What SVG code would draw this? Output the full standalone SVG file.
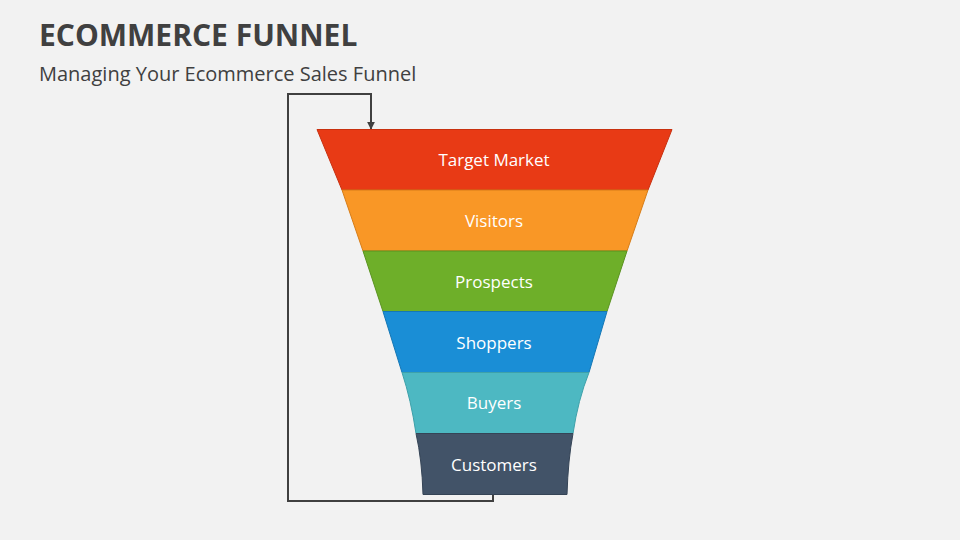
<svg xmlns="http://www.w3.org/2000/svg" width="960" height="540" viewBox="0 0 960 540">
<style>
text{font-family:"Open Sans","Liberation Sans",sans-serif}
.l{fill:#fff;font-size:17px;text-anchor:middle}
.s{stroke-width:1}
</style>
<defs><marker id="a" viewBox="0 0 10 10" refX="9" refY="5" markerWidth="4" markerHeight="4" orient="auto"><path d="M0,0L10,5L0,10z" fill="#404040"/></marker></defs>
<rect width="960" height="540" fill="#f2f2f2"/>
<text x="39" y="46" font-size="30" font-weight="bold" fill="#404040">ECOMMERCE FUNNEL</text>
<text x="39" y="81" font-size="20" fill="#404040">Managing Your Ecommerce Sales Funnel</text>
<g id="connectors"><path d="M493,494V501H288V94H371V129" fill="none" stroke="#404040" stroke-width="2" marker-end="url(#a)"/></g>
<g id="n1"><path d="M317,129.5H672L648,190H342Z" fill="#e83a15" stroke="#c8300f"/><text class="l" x="494" y="166">Target Market</text></g>
<g id="n2"><path d="M342,190H648L627,251H363Z" fill="#f99726" stroke="#d77d18"/><text class="l" x="494" y="227">Visitors</text></g>
<g id="n3"><path d="M363,251H627L607,311.5H383Z" fill="#6eaf29" stroke="#5a9320"/><text class="l" x="494" y="288">Prospects</text></g>
<g id="n4"><path d="M383,311.5H607L589,372.5H402Z" fill="#1a8ed6" stroke="#1577b5"/><text class="l" x="494" y="349">Shoppers</text></g>
<g id="n5"><path d="M402,372.5H589Q578,400 573,433.5H416Q411,400 402,372.5Z" fill="#4db8c2" stroke="#3ea1aa"/><text class="l" x="494" y="409">Buyers</text></g>
<g id="n6"><path d="M416,433.5H573Q568,460 567,494.5H423Q422,460 416,433.5Z" fill="#425368" stroke="#354456"/><text class="l" x="494" y="471">Customers</text></g>
</svg>
